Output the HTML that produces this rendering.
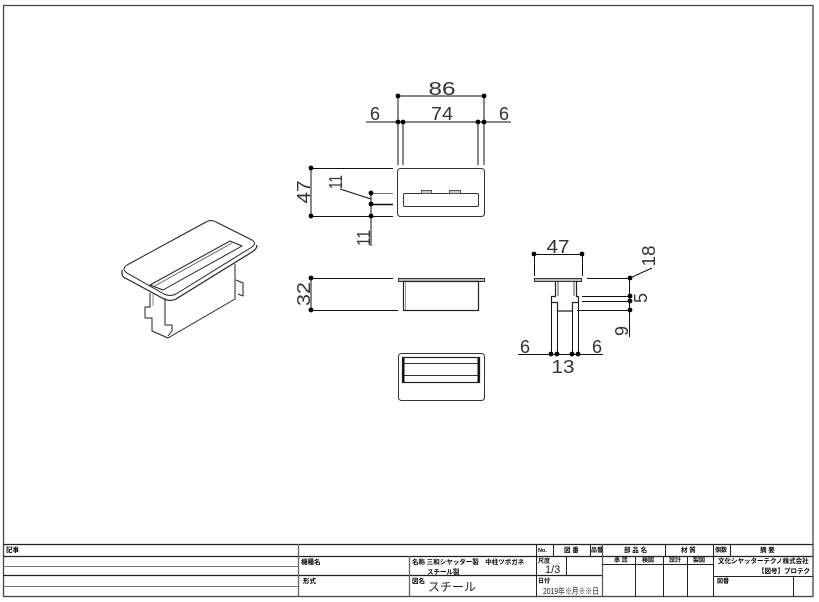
<!DOCTYPE html>
<html><head><meta charset="utf-8"><style>
html,body{margin:0;padding:0;background:#fff;}
svg{display:block;}
.d{font-family:"Liberation Sans",sans-serif;font-size:18px;fill:#333;}
.t{font-family:"Liberation Sans","Noto Sans CJK JP",sans-serif;font-size:6.5px;font-weight:bold;fill:#000;}
</style></head><body>
<svg width="819" height="602" viewBox="0 0 819 602" xmlns="http://www.w3.org/2000/svg">
<rect x="0" y="0" width="819" height="602" fill="#fff"/>
<!-- border -->
<rect x="3.5" y="5.5" width="809.5" height="591" fill="none" stroke="#444" stroke-width="1.3"/>

<g stroke="#111" stroke-width="1" fill="none">
<!-- TOP VIEW dims -->
<line x1="398" y1="96" x2="484" y2="96"/>
<line x1="366" y1="122" x2="511" y2="122"/>
<line x1="398" y1="96" x2="398" y2="165"/>
<line x1="403" y1="122" x2="403" y2="165"/>
<line x1="478" y1="122" x2="478" y2="165"/>
<line x1="484" y1="96" x2="484" y2="165"/>
<!-- top view box -->
<rect x="397.5" y="168.5" width="87" height="48" rx="3" stroke="#333"/>
<rect x="403.5" y="193.5" width="75" height="13" rx="1.5" stroke="#333"/>
<rect x="421.5" y="190.5" width="10" height="3" stroke="#555" fill="#ccc"/>
<rect x="449.5" y="190.5" width="11" height="3" stroke="#555" fill="#ccc"/>
<!-- left dims of top view -->
<line x1="311" y1="168.5" x2="393" y2="168.5"/>
<line x1="311" y1="216.5" x2="393" y2="216.5"/>
<line x1="311" y1="168" x2="311" y2="216"/>
<line x1="371" y1="193.5" x2="393" y2="193.5" stroke="#777"/>
<line x1="371" y1="204.5" x2="393" y2="204.5" stroke-width="1.4"/>
<line x1="371" y1="193" x2="371" y2="246"/>
<line x1="340" y1="189" x2="371" y2="199"/>
<!-- SIDE VIEW -->
<line x1="311" y1="278.5" x2="393" y2="278.5"/>
<line x1="311" y1="310.5" x2="398" y2="310.5"/>
<line x1="311" y1="278" x2="311" y2="310"/>
<rect x="398.5" y="278.5" width="86" height="3" fill="#bbb" stroke="#333"/>
<rect x="403.5" y="281.5" width="75" height="29" stroke="#222" stroke-width="1.2"/>
<line x1="405.5" y1="282" x2="405.5" y2="310" stroke="#999"/>
<!-- BOTTOM VIEW -->
<rect x="398.5" y="353.5" width="86" height="47" rx="3" stroke="#333"/>
<rect x="402.5" y="357.5" width="77" height="25" stroke="#222" stroke-width="1.2"/>
<line x1="403" y1="363.5" x2="479" y2="363.5" stroke="#333"/>
<line x1="403" y1="375.5" x2="479" y2="375.5" stroke="#333"/>
<line x1="403.5" y1="358" x2="403.5" y2="382" stroke-width="2"/>
<line x1="478.5" y1="358" x2="478.5" y2="382" stroke-width="2"/>
<!-- RIGHT VIEW -->
<line x1="534" y1="254.5" x2="582" y2="254.5"/>
<line x1="534.5" y1="254" x2="534.5" y2="276"/>
<line x1="582.5" y1="254" x2="582.5" y2="276"/>
<rect x="534.5" y="278.5" width="47" height="3" fill="#bbb" stroke="#333"/>
<path d="M555.5,281 V296.5 H551.5 V302.5 H557.5 V311 H572.5 V302.5 H578.5 V296.5 H576.5 V281" stroke="#222" stroke-width="1.2"/>
<line x1="558" y1="282" x2="558" y2="296" stroke="#555"/>
<line x1="574" y1="282" x2="574" y2="296" stroke="#555"/>
<line x1="587" y1="278.5" x2="630" y2="278.5"/>
<line x1="582" y1="296.5" x2="630" y2="296.5"/>
<line x1="582" y1="301.5" x2="630" y2="301.5"/>
<line x1="577" y1="310.5" x2="630" y2="310.5"/>
<line x1="629.5" y1="278" x2="629.5" y2="337"/>
<line x1="630" y1="278" x2="652" y2="268"/>
<line x1="518" y1="354.5" x2="603" y2="354.5"/>
<line x1="551.5" y1="302" x2="551.5" y2="354"/>
<line x1="557.5" y1="311" x2="557.5" y2="354"/>
<line x1="572.5" y1="311" x2="572.5" y2="354"/>
<line x1="578.5" y1="302" x2="578.5" y2="354"/>
</g>

<!-- dots -->
<g fill="#000">
<circle cx="398" cy="96" r="2.4"/><circle cx="484" cy="96" r="2.4"/>
<circle cx="398" cy="122" r="2.4"/><circle cx="403" cy="122" r="2.4"/>
<circle cx="478" cy="122" r="2.4"/><circle cx="484" cy="122" r="2.4"/>
<circle cx="311" cy="168" r="2.4"/><circle cx="311" cy="216" r="2.4"/>
<circle cx="371" cy="193" r="2.4"/><circle cx="371" cy="204" r="2.4"/><circle cx="371" cy="216" r="2.4"/>
<circle cx="311" cy="278" r="2.4"/><circle cx="311" cy="310" r="2.4"/>
<circle cx="534" cy="254" r="2.4"/><circle cx="582" cy="254" r="2.4"/>
<circle cx="630" cy="278" r="2.4"/><circle cx="630" cy="296" r="2.4"/><circle cx="630" cy="301" r="2.4"/><circle cx="630" cy="310" r="2.4"/>
<circle cx="551" cy="354" r="2.4"/><circle cx="557" cy="354" r="2.4"/><circle cx="572" cy="354" r="2.4"/><circle cx="578" cy="354" r="2.4"/>
</g>

<!-- dim text -->
<g class="d">
<text x="442" y="95" text-anchor="middle" textLength="27" lengthAdjust="spacingAndGlyphs">86</text>
<text x="442" y="120" text-anchor="middle" textLength="22" lengthAdjust="spacingAndGlyphs">74</text>
<text x="375" y="120" text-anchor="middle">6</text>
<text x="504" y="120" text-anchor="middle">6</text>
<text transform="translate(310,192) rotate(-90)" text-anchor="middle" textLength="23" lengthAdjust="spacingAndGlyphs">47</text>
<text transform="translate(342,182) rotate(-90)" text-anchor="middle" textLength="14" lengthAdjust="spacingAndGlyphs">11</text>
<text transform="translate(370,238) rotate(-90)" text-anchor="middle" textLength="16" lengthAdjust="spacingAndGlyphs">11</text>
<text transform="translate(310,294) rotate(-90)" text-anchor="middle" textLength="24" lengthAdjust="spacingAndGlyphs">32</text>
<text x="558" y="253" text-anchor="middle" textLength="23" lengthAdjust="spacingAndGlyphs">47</text>
<text transform="translate(655,256) rotate(-90)" text-anchor="middle" textLength="21" lengthAdjust="spacingAndGlyphs">18</text>
<text transform="translate(647,298) rotate(-90)" text-anchor="middle">5</text>
<text transform="translate(628,331) rotate(-90)" text-anchor="middle">9</text>
<text x="525" y="353" text-anchor="middle">6</text>
<text x="597" y="353" text-anchor="middle">6</text>
<text x="563" y="373" text-anchor="middle" textLength="23" lengthAdjust="spacingAndGlyphs">13</text>
</g>

<!-- ISOMETRIC -->
<g stroke="#222" stroke-width="1" fill="none" stroke-linejoin="round">
<path d="M150,293 V307 H145 V318 H152 V331 L168,338"/>
<path d="M165,298 V325 H172 V331 L168,336"/>
<path d="M168,338 L235,299"/>
<path d="M235,264 V299"/>
<path d="M236,280 L243,283 V296 L238,294"/>
<path d="M153,294 V306" stroke="#888"/>
<path d="M127,265 L206,222 Q211,219 216,222 L252,240 Q257,243 252,247 L176,294 Q170,297 164,294 L127,273 Q121,269 127,265 Z" fill="#fff"/>
<path d="M122,270 V274 Q122,277 127,279 L164,299 Q170,302 176,299 L252,252 Q257,249 257,245" stroke-width="1.2"/>
<path d="M150,285 L230,241 L242,246 L163,290 Z"/>
<path d="M153,287 L232,243" stroke="#666"/>
</g>

<!-- TITLE BLOCK -->
<g stroke="#222" stroke-width="1" fill="none">
<line x1="3.5" y1="544.5" x2="813" y2="544.5" stroke-width="1.3"/>
<line x1="3.5" y1="556.5" x2="813" y2="556.5" stroke-width="1.2"/>
<line x1="3.5" y1="566.5" x2="298" y2="566.5" stroke="#777"/>
<line x1="3.5" y1="575.5" x2="602" y2="575.5" stroke-width="1.2"/>
<line x1="3.5" y1="586.5" x2="298" y2="586.5" stroke="#777"/>
<line x1="298.5" y1="544" x2="298.5" y2="597" stroke="#666" stroke-width="1.3"/>
<line x1="409.5" y1="556" x2="409.5" y2="597" stroke="#666" stroke-width="1.3"/>
<line x1="536.5" y1="544" x2="536.5" y2="597"/>
<line x1="553.5" y1="544" x2="553.5" y2="556"/>
<line x1="590.5" y1="544" x2="590.5" y2="556"/>
<line x1="566.5" y1="556" x2="566.5" y2="575"/>
<line x1="602.5" y1="544" x2="602.5" y2="597" stroke="#555" stroke-width="1.2"/>
<line x1="665.5" y1="544" x2="665.5" y2="556"/>
<line x1="713.5" y1="544" x2="713.5" y2="597"/>
<line x1="730.5" y1="544" x2="730.5" y2="556"/>
<line x1="602" y1="564.5" x2="713" y2="564.5"/>
<line x1="635.5" y1="556" x2="635.5" y2="597"/>
<line x1="663.5" y1="556" x2="663.5" y2="597"/>
<line x1="687.5" y1="556" x2="687.5" y2="597"/>
<line x1="713" y1="576.5" x2="813" y2="576.5"/>
<line x1="793.5" y1="576" x2="793.5" y2="597"/>
</g>
<g class="t">
<text x="6" y="552">記事</text>
<text x="301" y="564">機種名</text>
<text x="303" y="583">形式</text>
<text x="412" y="564">名称 三和シヤッター製　中柱ツボガネ</text>
<text x="427" y="574">スチール製</text>
<text x="412" y="583">図名</text>
<text x="538" y="552" font-size="5.5">No.</text>
<text x="564" y="552">図 番</text>
<text x="591" y="552" font-size="6">品番</text>
<text x="538" y="563" font-size="6">尺度</text>
<text x="538" y="583" font-size="6">日付</text>
<text x="624" y="552">部 品 名</text>
<text x="681" y="552">材 質</text>
<text x="715" y="552" font-size="6">個数</text>
<text x="760" y="552">摘 要</text>
<text x="614" y="562" font-size="6">承 認</text>
<text x="642" y="562" font-size="6">検図</text>
<text x="669" y="562" font-size="6">設計</text>
<text x="693" y="562" font-size="6">製図</text>
<text x="718" y="563">文化シヤッターテクノ株式会社</text>
<text x="810" y="573" text-anchor="end">【図号】プロテク</text>
<text x="717" y="583" font-size="6">図番</text>
</g>
<g font-family="Liberation Sans,'Noto Sans CJK JP',sans-serif" fill="#222">
<text x="428" y="591" font-size="12">スチール</text>
<text x="545" y="573" font-size="11">1/3</text>
<text x="543" y="594" font-size="8.5" textLength="56" lengthAdjust="spacingAndGlyphs">2019年※月※※日</text>
</g>
</svg>
</body></html>
